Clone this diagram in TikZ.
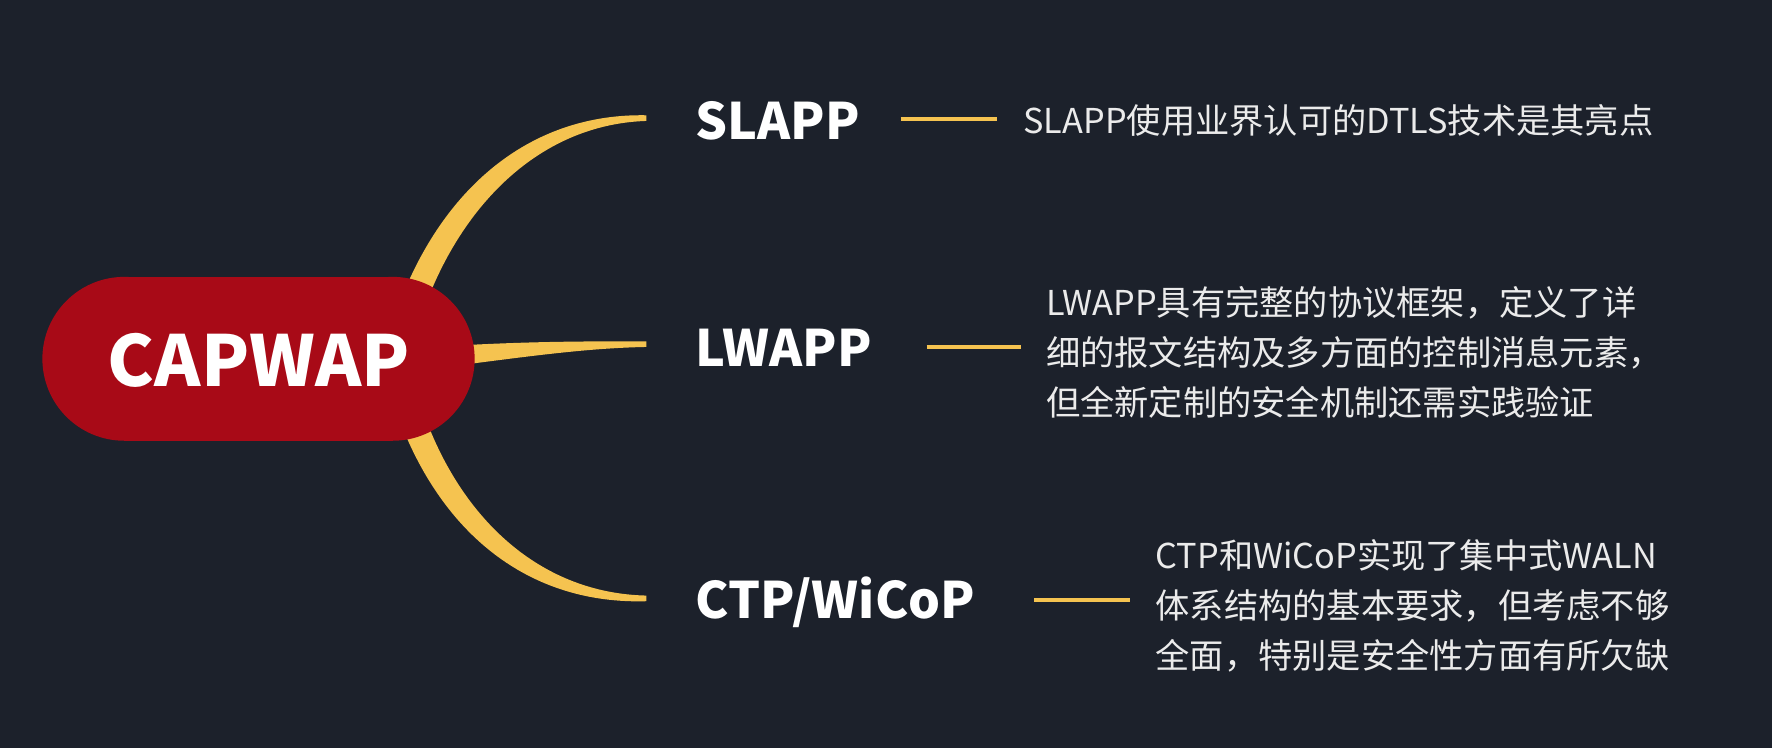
\documentclass[tikz,border=0pt]{standalone}
\usepackage{fontspec}
\setmainfont{Noto Sans CJK SC}
\definecolor{bg}{HTML}{1C212B}
\definecolor{pill}{HTML}{A80A17}
\definecolor{gold}{HTML}{F5C350}
\begin{document}
\begin{tikzpicture}[x=0.0113cm,y=-0.0113cm,
  branch/.style={font=\fontsize{14.3}{17}\selectfont\bfseries,text=white,anchor=west,inner sep=0},
  desc/.style={font=\fontsize{9.75}{14.2}\selectfont,text=white!92!black,anchor=west,align=left,inner sep=0},
  link/.style={draw=gold,line width=1.2pt}]
\fill[bg] (0,0) rectangle (1568,662);
\useasboundingbox (0,0) rectangle (1568,662);
\fill[gold] (356,262) .. controls (395,165) and (470,100) .. (572,102) -- (572,107) .. controls (480,110) and (412,178) .. (378,266) -- cycle;
\fill[gold] (400,306) .. controls (470,302) and (520,302) .. (572,302) -- (572,307) .. controls (520,308) and (470,315) .. (400,324) -- cycle;
\fill[gold] (356,378) .. controls (395,475) and (470,535) .. (572,532) -- (572,527) .. controls (480,525) and (412,462) .. (378,374) -- cycle;
\fill[pill] (38+72,245) rectangle (420-72,390);
\fill[pill] (110,317.5) circle[radius=72.5];
\fill[pill] (347.5,317.5) circle[radius=72.5];
\node[text=white,font=\fontsize{20}{24}\selectfont\bfseries] (root) at (229,319) {CAPWAP};
\node[branch] (s) at (615,107) {SLAPP};
\node[branch] (l) at (615,308) {LWAPP};
\node[branch] (c) at (615,533) {CTP/WiCoP};
\coordinate (s1) at (797,105); \coordinate (s2) at (882,105);
\coordinate (l1) at (820,307); \coordinate (l2) at (903,307);
\coordinate (c1) at (915,531); \coordinate (c2) at (1000,531);
\draw[link] (s1) -- (s2);
\draw[link] (l1) -- (l2);
\draw[link] (c1) -- (c2);
\node[desc] (sd) at (905,107) {SLAPP使用业界认可的DTLS技术是其亮点};
\node[desc] (ld) at (925,312) {LWAPP具有完整的协议框架，定义了详\\细的报文结构及多方面的控制消息元素，\\但全新定制的安全机制还需实践验证};
\node[desc] (cd) at (1022,536) {CTP和WiCoP实现了集中式WALN\\体系结构的基本要求，但考虑不够\\全面，特别是安全性方面有所欠缺};
\end{tikzpicture}
\end{document}
